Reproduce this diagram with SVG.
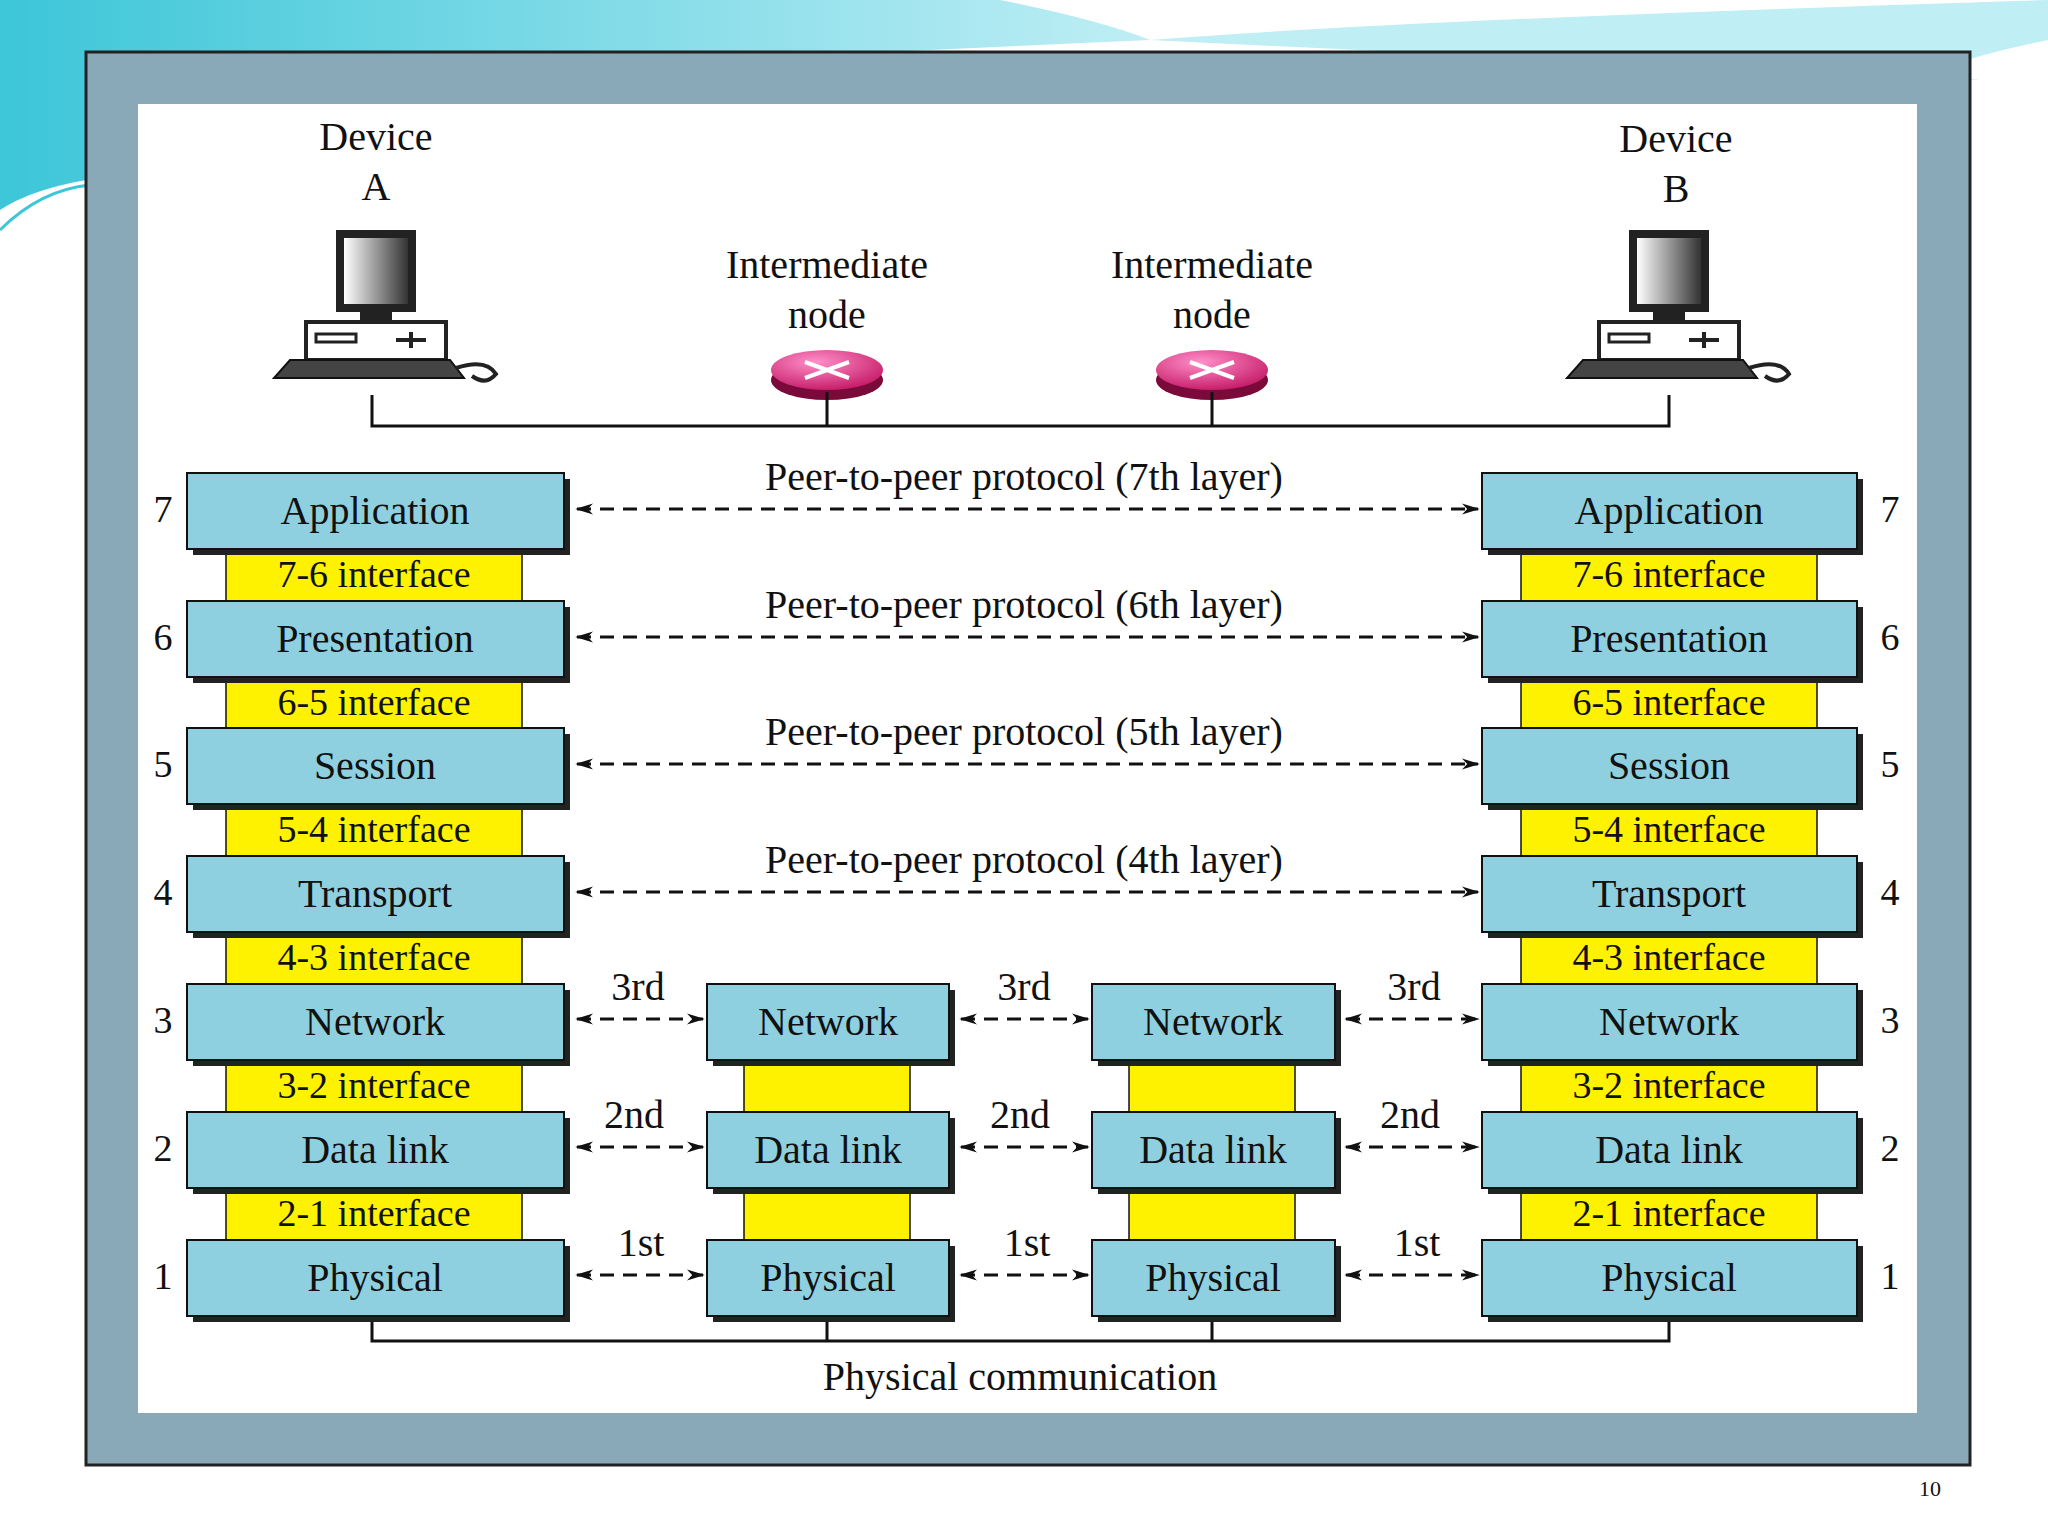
<svg xmlns="http://www.w3.org/2000/svg" width="2048" height="1536" viewBox="0 0 2048 1536">
<defs>
<linearGradient id="sky" x1="0" y1="0" x2="1" y2="0"><stop offset="0" stop-color="#3cc6d8"/><stop offset="1" stop-color="#bfeef5"/></linearGradient>
<linearGradient id="scr" x1="0" y1="0" x2="1" y2="0"><stop offset="0" stop-color="#fff"/><stop offset="1" stop-color="#333"/></linearGradient>
<radialGradient id="rt" cx="0.4" cy="0.3" r="0.8"><stop offset="0" stop-color="#ff8fc8"/><stop offset="1" stop-color="#c0105e"/></radialGradient>
<marker id="ah" viewBox="0 0 10 10" refX="9" refY="5" markerWidth="18" markerHeight="14" orient="auto-start-reverse" markerUnits="userSpaceOnUse" preserveAspectRatio="none"><path d="M0,1 L10,5 L0,9 L3,5 z" fill="#111"/></marker>
<g id="pc">
<rect x="-40" y="-152" width="80" height="82" fill="#222"/>
<rect x="-32" y="-144" width="64" height="66" fill="url(#scr)"/>
<rect x="-16" y="-70" width="32" height="10" fill="#222"/>
<rect x="-70" y="-60" width="140" height="38" fill="#fff" stroke="#222" stroke-width="4"/>
<rect x="-60" y="-48" width="40" height="8" fill="none" stroke="#222" stroke-width="3"/>
<path d="M20,-42 h30 M35,-50 v16" stroke="#222" stroke-width="4"/>
<path d="M-86,-22 h160 l14,18 h-190 z" fill="#444" stroke="#111" stroke-width="2"/>
<path d="M80,-14 q30,-10 40,6 q-10,12 -24,2" fill="none" stroke="#222" stroke-width="4"/>
</g>
</defs>
<style>
.t{font-family:"Liberation Serif",serif;fill:#111}
.b{fill:#8fd0e0;stroke:#111;stroke-width:2}
.sh{fill:#222}
.y{fill:#fff200;stroke:#111;stroke-width:1.5}
.bt{font-size:40px;text-anchor:middle}
.d{stroke:#111;stroke-width:3;stroke-dasharray:14 9;fill:none;marker-start:url(#ah);marker-end:url(#ah)}
.ln{stroke:#111;stroke-width:3;fill:none}
</style>
<rect width="2048" height="1536" fill="#fff"/>
<path d="M0,0 H1000 Q1100,20 1150,40 Q700,60 300,80 Q120,100 86,130 L86,180 Q30,190 0,210 Z" fill="url(#sky)"/>
<path d="M1150,40 Q1400,20 2048,0 V40 Q1900,70 1980,80 Z" fill="#bfeef5"/>
<path d="M0,230 Q40,190 90,185" stroke="#3cc6d8" stroke-width="3" fill="none"/>
<rect x="86" y="52" width="1884" height="1413" fill="#8aa9b8" stroke="#222" stroke-width="3"/>
<rect x="138" y="104" width="1779" height="1309" fill="#fff"/>
<text class="t" x="1930" y="1496" font-size="22" text-anchor="middle" fill="#333">10</text>

<g id="deviceA"><use href="#pc" x="376" y="382"/><text class="t bt" x="376" y="150">Device</text><text class="t bt" x="376" y="200">A</text></g>
<g id="deviceB"><use href="#pc" x="1669" y="382"/><text class="t bt" x="1676" y="152">Device</text><text class="t bt" x="1676" y="202">B</text></g>
<g id="node1"><text class="t bt" x="827" y="278">Intermediate</text><text class="t bt" x="827" y="328">node</text>
<ellipse cx="827" cy="380" rx="56" ry="20" fill="#7a0a3a"/><ellipse cx="827" cy="370" rx="56" ry="20" fill="url(#rt)"/><path d="M805,362 L849,378 M805,378 L849,362" stroke="#fff" stroke-width="4"/></g>
<g id="node2"><text class="t bt" x="1212" y="278">Intermediate</text><text class="t bt" x="1212" y="328">node</text>
<ellipse cx="1212" cy="380" rx="56" ry="20" fill="#7a0a3a"/><ellipse cx="1212" cy="370" rx="56" ry="20" fill="url(#rt)"/><path d="M1190,362 L1234,378 M1190,378 L1234,362" stroke="#fff" stroke-width="4"/></g>

<g id="connectors">
<path class="ln" d="M372,395 V426 H1669 V395 M827,392 V426 M1212,392 V426"/>
<path class="ln" d="M372,1313 V1341 H1669 V1313 M827,1313 V1341 M1212,1313 V1341"/>
<path class="d" d="M577,509 H1478"/>
<path class="d" d="M577,637 H1478"/>
<path class="d" d="M577,764 H1478"/>
<path class="d" d="M577,892 H1478"/>
<path class="d" d="M577,1019 H703"/><path class="d" d="M961,1019 H1088"/><path class="d" d="M1346,1019 H1478"/>
<path class="d" d="M577,1147 H703"/><path class="d" d="M961,1147 H1088"/><path class="d" d="M1346,1147 H1478"/>
<path class="d" d="M577,1275 H703"/><path class="d" d="M961,1275 H1088"/><path class="d" d="M1346,1275 H1478"/>
<g class="t" font-size="40" text-anchor="middle">
<text x="1024" y="490">Peer-to-peer protocol (7th layer)</text>
<text x="1024" y="618">Peer-to-peer protocol (6th layer)</text>
<text x="1024" y="745">Peer-to-peer protocol (5th layer)</text>
<text x="1024" y="873">Peer-to-peer protocol (4th layer)</text>
<text x="638" y="1000">3rd</text><text x="1024" y="1000">3rd</text><text x="1414" y="1000">3rd</text>
<text x="634" y="1128">2nd</text><text x="1020" y="1128">2nd</text><text x="1410" y="1128">2nd</text>
<text x="641" y="1256">1st</text><text x="1027" y="1256">1st</text><text x="1417" y="1256">1st</text>
<text x="1020" y="1390">Physical communication</text>
</g>
</g>

<g id="stackA">
<g class="t" font-size="38" text-anchor="middle">
<text x="163" y="522">7</text><text x="163" y="650">6</text><text x="163" y="777">5</text><text x="163" y="905">4</text><text x="163" y="1033">3</text><text x="163" y="1161">2</text><text x="163" y="1289">1</text>
</g>
<rect class="y" x="226" y="549" width="296" height="52"/><rect class="y" x="226" y="677" width="296" height="52"/><rect class="y" x="226" y="804" width="296" height="52"/><rect class="y" x="226" y="932" width="296" height="52"/><rect class="y" x="226" y="1060" width="296" height="52"/><rect class="y" x="226" y="1188" width="296" height="52"/>
<g class="t" font-size="38" text-anchor="middle">
<text x="374" y="587">7-6 interface</text><text x="374" y="715">6-5 interface</text><text x="374" y="842">5-4 interface</text><text x="374" y="970">4-3 interface</text><text x="374" y="1098">3-2 interface</text><text x="374" y="1226">2-1 interface</text>
</g>
</g>
<g id="stackB">
<g class="t" font-size="38" text-anchor="middle">
<text x="1890" y="522">7</text><text x="1890" y="650">6</text><text x="1890" y="777">5</text><text x="1890" y="905">4</text><text x="1890" y="1033">3</text><text x="1890" y="1161">2</text><text x="1890" y="1289">1</text>
</g>
<rect class="y" x="1521" y="549" width="296" height="52"/><rect class="y" x="1521" y="677" width="296" height="52"/><rect class="y" x="1521" y="804" width="296" height="52"/><rect class="y" x="1521" y="932" width="296" height="52"/><rect class="y" x="1521" y="1060" width="296" height="52"/><rect class="y" x="1521" y="1188" width="296" height="52"/>
<g class="t" font-size="38" text-anchor="middle">
<text x="1669" y="587">7-6 interface</text><text x="1669" y="715">6-5 interface</text><text x="1669" y="842">5-4 interface</text><text x="1669" y="970">4-3 interface</text><text x="1669" y="1098">3-2 interface</text><text x="1669" y="1226">2-1 interface</text>
</g>
</g>
<g id="mid-yellow">
<rect class="y" x="744" y="1060" width="166" height="52"/><rect class="y" x="744" y="1188" width="166" height="52"/>
<rect class="y" x="1129" y="1060" width="166" height="52"/><rect class="y" x="1129" y="1188" width="166" height="52"/>
</g>

<g id="boxes">
<g id="A7"><rect class="sh" x="193" y="479" width="377" height="76"/><rect class="b" x="187" y="473" width="377" height="76"/><text class="t bt" x="375" y="524">Application</text></g>
<g id="A6"><rect class="sh" x="193" y="607" width="377" height="76"/><rect class="b" x="187" y="601" width="377" height="76"/><text class="t bt" x="375" y="652">Presentation</text></g>
<g id="A5"><rect class="sh" x="193" y="734" width="377" height="76"/><rect class="b" x="187" y="728" width="377" height="76"/><text class="t bt" x="375" y="779">Session</text></g>
<g id="A4"><rect class="sh" x="193" y="862" width="377" height="76"/><rect class="b" x="187" y="856" width="377" height="76"/><text class="t bt" x="375" y="907">Transport</text></g>
<g id="A3"><rect class="sh" x="193" y="990" width="377" height="76"/><rect class="b" x="187" y="984" width="377" height="76"/><text class="t bt" x="375" y="1035">Network</text></g>
<g id="A2"><rect class="sh" x="193" y="1118" width="377" height="76"/><rect class="b" x="187" y="1112" width="377" height="76"/><text class="t bt" x="375" y="1163">Data link</text></g>
<g id="A1"><rect class="sh" x="193" y="1246" width="377" height="76"/><rect class="b" x="187" y="1240" width="377" height="76"/><text class="t bt" x="375" y="1291">Physical</text></g>
<g id="B7"><rect class="sh" x="1488" y="479" width="375" height="76"/><rect class="b" x="1482" y="473" width="375" height="76"/><text class="t bt" x="1669" y="524">Application</text></g>
<g id="B6"><rect class="sh" x="1488" y="607" width="375" height="76"/><rect class="b" x="1482" y="601" width="375" height="76"/><text class="t bt" x="1669" y="652">Presentation</text></g>
<g id="B5"><rect class="sh" x="1488" y="734" width="375" height="76"/><rect class="b" x="1482" y="728" width="375" height="76"/><text class="t bt" x="1669" y="779">Session</text></g>
<g id="B4"><rect class="sh" x="1488" y="862" width="375" height="76"/><rect class="b" x="1482" y="856" width="375" height="76"/><text class="t bt" x="1669" y="907">Transport</text></g>
<g id="B3"><rect class="sh" x="1488" y="990" width="375" height="76"/><rect class="b" x="1482" y="984" width="375" height="76"/><text class="t bt" x="1669" y="1035">Network</text></g>
<g id="B2"><rect class="sh" x="1488" y="1118" width="375" height="76"/><rect class="b" x="1482" y="1112" width="375" height="76"/><text class="t bt" x="1669" y="1163">Data link</text></g>
<g id="B1"><rect class="sh" x="1488" y="1246" width="375" height="76"/><rect class="b" x="1482" y="1240" width="375" height="76"/><text class="t bt" x="1669" y="1291">Physical</text></g>
<g id="N1-3"><rect class="sh" x="713" y="990" width="242" height="76"/><rect class="b" x="707" y="984" width="242" height="76"/><text class="t bt" x="828" y="1035">Network</text></g>
<g id="N1-2"><rect class="sh" x="713" y="1118" width="242" height="76"/><rect class="b" x="707" y="1112" width="242" height="76"/><text class="t bt" x="828" y="1163">Data link</text></g>
<g id="N1-1"><rect class="sh" x="713" y="1246" width="242" height="76"/><rect class="b" x="707" y="1240" width="242" height="76"/><text class="t bt" x="828" y="1291">Physical</text></g>
<g id="N2-3"><rect class="sh" x="1098" y="990" width="243" height="76"/><rect class="b" x="1092" y="984" width="243" height="76"/><text class="t bt" x="1213" y="1035">Network</text></g>
<g id="N2-2"><rect class="sh" x="1098" y="1118" width="243" height="76"/><rect class="b" x="1092" y="1112" width="243" height="76"/><text class="t bt" x="1213" y="1163">Data link</text></g>
<g id="N2-1"><rect class="sh" x="1098" y="1246" width="243" height="76"/><rect class="b" x="1092" y="1240" width="243" height="76"/><text class="t bt" x="1213" y="1291">Physical</text></g>
</g>
</svg>
